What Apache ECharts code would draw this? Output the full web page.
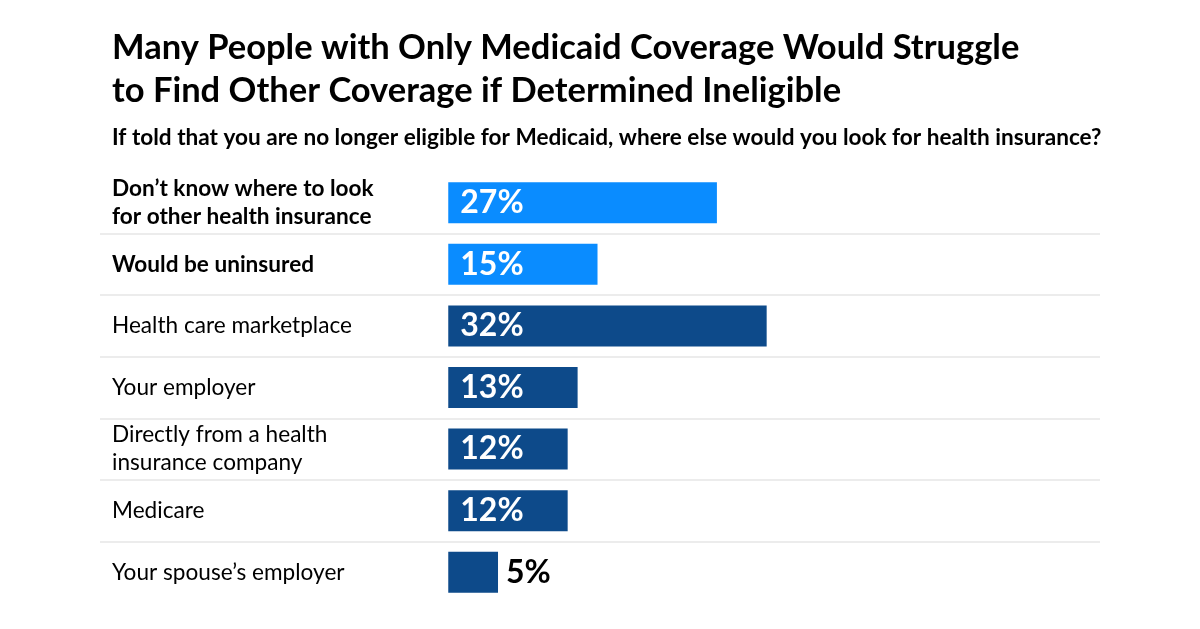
<!DOCTYPE html>
<html><head><meta charset="utf-8">
<script src="https://cdn.jsdelivr.net/npm/echarts@6/dist/echarts.min.js"></script>
<style>html,body{margin:0;padding:0;background:#fff}#c{width:1200px;height:629px}</style>
</head><body><div id="c"></div>
<script>
const titleText = 'Many People with Only Medicaid Coverage Would Struggle\nto Find Other Coverage if Determined Ineligible';
const subtitleText = 'If told that you are no longer eligible for Medicaid, where else would you look for health insurance?';
const categories = ['Don\u2019t know where to look\nfor other health insurance','Would be uninsured','Health care marketplace','Your employer','Directly from a health\ninsurance company','Medicare','Your spouse\u2019s employer'];
const values = [27,15,32,13,12,12,5];
const boldRows = [true,true,false,false,false,false,false];
const barColors = ['#0a8cff','#0a8cff','#0d4a8a','#0d4a8a','#0d4a8a','#0d4a8a','#0d4a8a'];
const outsideLabel = [false,false,false,false,false,false,true];

const FONT = 'Lato';
const sepColors = categories.map(()=> '#e6e6e6');
sepColors[0] = 'rgba(0,0,0,0)';
sepColors.push('rgba(0,0,0,0)');
const chart = echarts.init(document.getElementById('c'), null, {renderer:'canvas'});
chart.setOption({
  animation:false,
  backgroundColor:'#fff',
  title:{
    text:titleText, subtext:subtitleText, left:112, top:26, itemGap:14, padding:0,
    textStyle:{fontFamily:FONT,fontSize:34.5,fontWeight:'bold',color:'#000',lineHeight:43},
    subtextStyle:{fontFamily:FONT,fontSize:22.6,fontWeight:'bold',color:'#000'}
  },
  grid:{left:100,right:100,top:172,height:431},
  xAxis:{type:'value',min:-35,max:65.5,show:false},
  yAxis:{type:'category',inverse:true,data:categories,
    axisLine:{show:false},axisTick:{show:false},
    splitLine:{show:true,lineStyle:{color:sepColors,width:1.5}},
    axisLabel:{inside:true,margin:12,align:'left',
      formatter:function(v,i){return boldRows[i]?'{b|'+v.split('\n').join('}\n{b|')+'}':'{n|'+v.split('\n').join('}\n{n|')+'}';},
      rich:{b:{fontFamily:FONT,fontSize:22.6,fontWeight:'bold',color:'#000',lineHeight:28},
            n:{fontFamily:FONT,fontSize:22.6,color:'#000',lineHeight:28}}}
  },
  series:[{type:'bar',barWidth:41,
    data:values.map((v,i)=>({value:v,itemStyle:{color:barColors[i]},
      label:outsideLabel[i]?{position:'right',distance:8,color:'#000'}:{position:'insideLeft',distance:12,color:'#fff'}})),
    label:{show:true,formatter:'{c}%',fontFamily:FONT,fontSize:32,fontWeight:'bold'}
  }]
});
</script></body></html>
